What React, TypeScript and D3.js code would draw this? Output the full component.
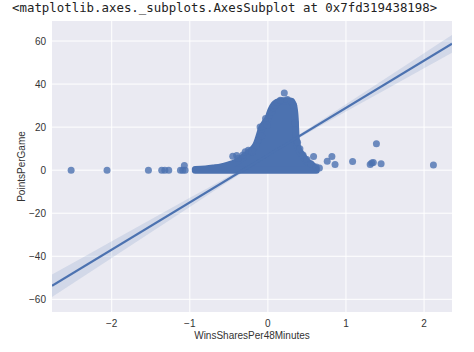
import React from "react";
import * as d3 from "d3";

const W = 474;
const H = 352;

const xTicks = [-2, -1, 0, 1, 2];
const yTicks = [-60, -40, -20, 0, 20, 40, 60];
const xDomain = [-2.765, 2.358];
const yDomain = [-65.9, 69.3];

// regression fit (ends at axis limits)
const fitX = [-2.765, 2.358];
const fitY = [-53.7, 58.7];
// confidence band half widths along x
const ciX = [-2.765, -2, -1, -0.5, 0, 0.1, 0.5, 1, 2, 2.358];
const ciHalf = [5.2, 3.9, 2.1, 1.2, 0.6, 0.5, 0.9, 1.7, 3.5, 4.1];

// dense core of overlapping markers: envelope (centre of top markers)
const coreX = [-0.93, -0.8, -0.7, -0.6, -0.5, -0.42, -0.35, -0.3, -0.25, -0.2, -0.15, -0.12, -0.08, -0.04, 0, 0.04, 0.08, 0.12, 0.18, 0.24, 0.3, 0.33, 0.35, 0.36, 0.38, 0.42, 0.46, 0.5, 0.56, 0.62];
const coreTop = [0.3, 0.6, 1, 1.5, 2.5, 3.5, 5, 6.5, 8, 9.5, 12, 15, 19.5, 22, 24, 28, 30.5, 31.5, 32.3, 32.3, 32, 30, 24, 16, 11, 8, 6, 4, 2.5, 0.5];

// individual markers
const ptX = [-2.52, -2.06, -1.53, -1.36, -1.32, -1.27, -1.12, -1.09, -1.07, -1.06,
  -0.45, -0.4, -0.38, -0.32, -0.29, -0.25, -0.2, -0.15, -0.12, -0.1, -0.08, -0.06, -0.03, -0.01, 0.02, 0.05, 0.07, 0.09, 0.12, 0.16, 0.21, 0.25, 0.3, 0.33, 0.35, 0.38, 0.41, 0.45, 0.5,
  0.585, 0.55, 0.62, 0.66, 0.76, 0.82, 0.86, 1.085, 1.31, 1.33, 1.35, 1.45, 1.39, 2.12];
const ptY = [0, 0, 0, 0, 0, 0, 0, 0, 2.2, 0,
  6.5, 6.8, 5.5, 7, 8.5, 9.3, 8.5, 11.5, 14, 20, 16, 20.5, 24, 21, 25.5, 27, 29, 30, 31.5, 32.5, 35.9, 32.8, 32, 30, 22, 13, 10, 7, 5,
  6.4, 3, 1.5, 1, 4.1, 6.4, 2.6, 4.0, 2.6, 3.3, 3.6, 3.0, 12.3, 2.4];

const BLUE = "#4C72B0";

export default function App() {
  const left = 52, right = 452, top = 21, bottom = 312;
  const x = d3.scaleLinear().domain(xDomain).range([left, right]);
  const y = d3.scaleLinear().domain(yDomain).range([bottom, top]);

  const ci = ciX.map((cx, i) => {
    const fy = fitY[0] + (fitY[1] - fitY[0]) * (cx - fitX[0]) / (fitX[1] - fitX[0]);
    return { x: cx, lo: fy - ciHalf[i], hi: fy + ciHalf[i] };
  });
  const ciArea = d3.area<any>().x(d => x(d.x)).y0(d => y(d.lo)).y1(d => y(d.hi)).curve(d3.curveMonotoneX)(ci) || "";

  const core = coreX.map((cx, i) => ({ x: cx, t: coreTop[i] }));
  const coreArea = d3.area<any>().x(d => x(d.x)).y0(() => y(0)).y1(d => y(d.t)).curve(d3.curveMonotoneX)(core) || "";

  const fitLine = d3.line<number>().x((d) => x(d)).y((d, i) => y(fitY[i]))(fitX) || "";

  return (
    <svg width={W} height={H} style={{ display: "block", position: "absolute", left: 0, top: 0 }} fontFamily="'Liberation Sans', Arial, sans-serif">
      <rect width={W} height={H} fill="#fff" />
      <text x={12} y={12} fontFamily="'DejaVu Sans Mono', monospace" fontSize={12.4} fill="#222">{"<matplotlib.axes._subplots.AxesSubplot at 0x7fd319438198>"}</text>
      <rect x={left} y={top} width={right - left} height={bottom - top} fill="#EAEAF2" />
      <defs>
        <clipPath id="plot"><rect x={left} y={top} width={right - left} height={bottom - top} /></clipPath>
      </defs>
      {xTicks.map(t => <line key={"gx" + t} x1={x(t)} x2={x(t)} y1={top} y2={bottom} stroke="#fff" strokeWidth={1} />)}
      {yTicks.map(t => <line key={"gy" + t} x1={left} x2={right} y1={y(t)} y2={y(t)} stroke="#fff" strokeWidth={1} />)}
      <g clipPath="url(#plot)">
        <path d={coreArea} fill={BLUE} stroke={BLUE} strokeWidth={7} strokeLinejoin="round" />
        {ptX.map((px, i) => <circle key={"p" + i} cx={x(px)} cy={y(ptY[i])} r={3.5} fill={BLUE} fillOpacity={0.8} />)}
        <path d={ciArea} fill={BLUE} fillOpacity={0.15} />
        <path d={fitLine} stroke={BLUE} strokeWidth={2.2} fill="none" />
      </g>
      {xTicks.map(t => <text key={"tx" + t} x={x(t)} y={327} textAnchor="middle" fontSize={10} fill="#333">{t < 0 ? "\u2212" + Math.abs(t) : String(t)}</text>)}
      {yTicks.map(t => <text key={"ty" + t} x={46} y={y(t)} dy="0.35em" textAnchor="end" fontSize={10} fill="#333">{t < 0 ? "\u2212" + Math.abs(t) : String(t)}</text>)}
      <text x={(left + right) / 2} y={339} textAnchor="middle" fontSize={10} fill="#333">WinsSharesPer48Minutes</text>
      <text transform={`translate(25,${(top + bottom) / 2}) rotate(-90)`} textAnchor="middle" fontSize={10} fill="#333">PointsPerGame</text>
    </svg>
  );
}
